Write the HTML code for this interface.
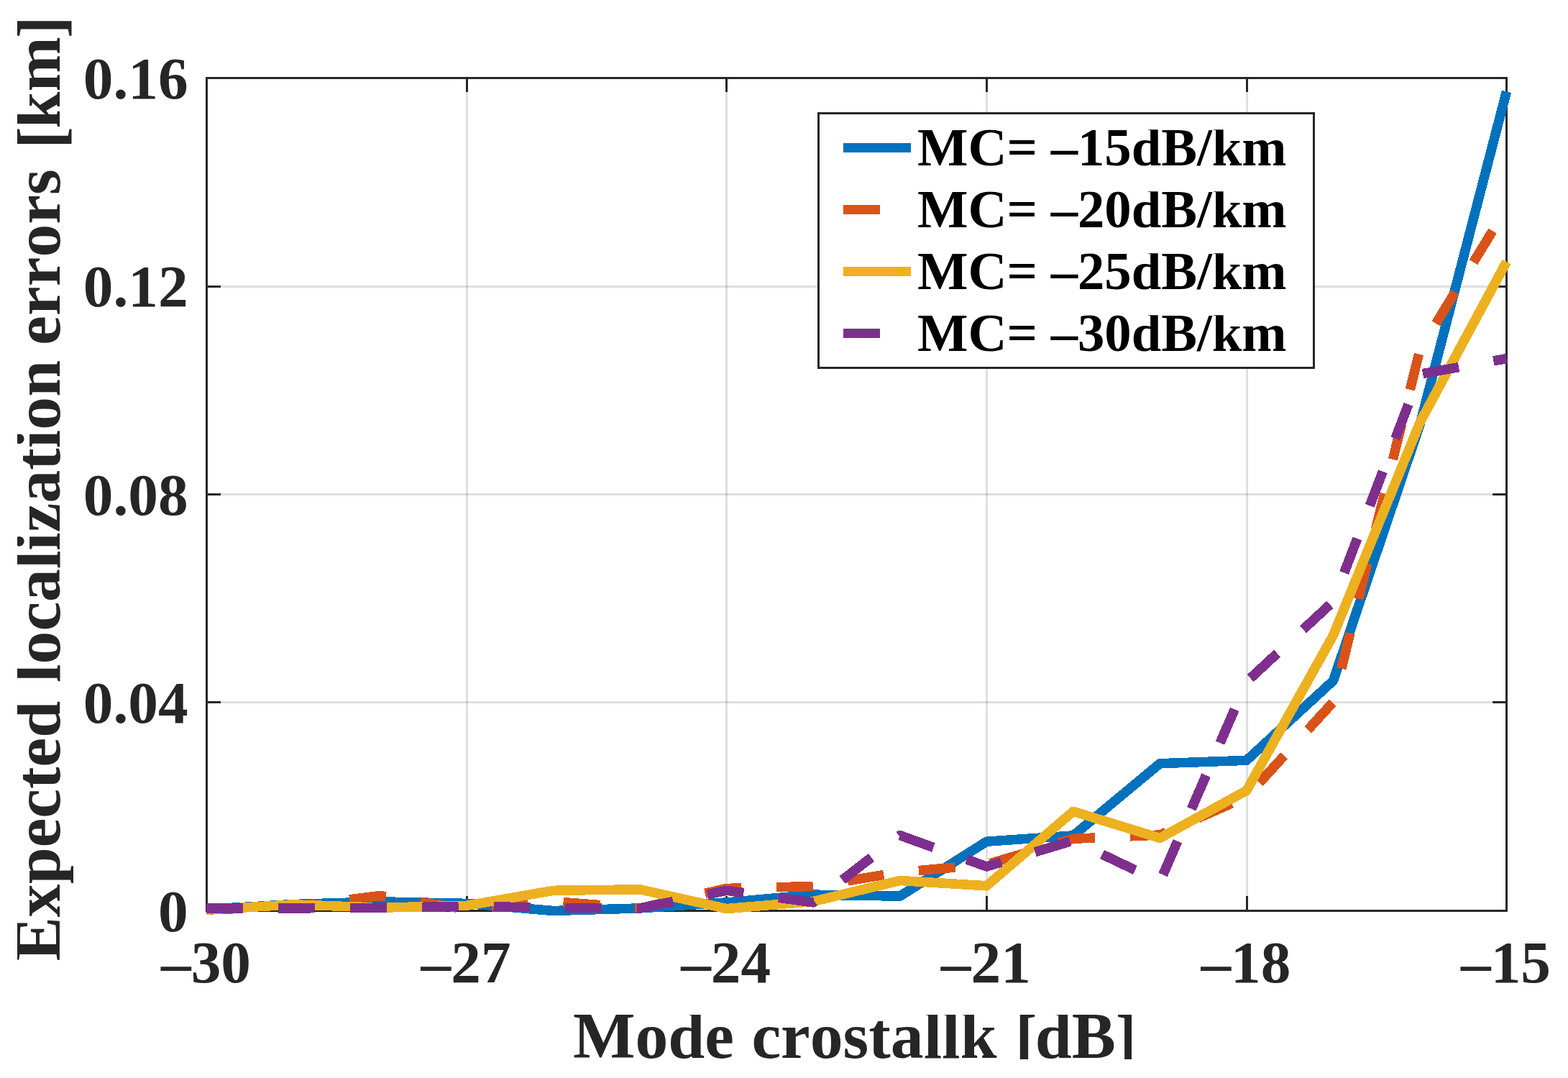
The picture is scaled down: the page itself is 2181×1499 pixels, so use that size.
<!DOCTYPE html>
<html lang="en"><head><meta charset="utf-8"><title>Expected localization errors vs mode crosstalk</title>
<style>
html,body{margin:0;padding:0;background:#fff;}
body{width:2181px;height:1499px;overflow:hidden;}
svg{display:block;}
text{font-family:"Liberation Serif","Times New Roman",serif;font-weight:bold;font-kerning:none;}
.tick{font-size:83.33px;fill:#262626;}
.lab{font-size:91.67px;fill:#262626;}
.leg{font-size:74.7px;fill:#000;}
</style></head><body>
<svg width="2181" height="1499" viewBox="0 0 2181 1499" role="img" aria-label="Expected localization errors versus mode crosstalk">
<rect width="2181" height="1499" fill="#fff"/>
<g stroke="#262626" stroke-opacity="0.15" stroke-width="3" fill="none" shape-rendering="crispEdges">
<line x1="649.5" y1="108.5" x2="649.5" y2="1266.5"/>
<line x1="1010.5" y1="108.5" x2="1010.5" y2="1266.5"/>
<line x1="1372.5" y1="108.5" x2="1372.5" y2="1266.5"/>
<line x1="1734.5" y1="108.5" x2="1734.5" y2="1266.5"/>
<line x1="287.5" y1="976.5" x2="2095.5" y2="976.5"/>
<line x1="287.5" y1="687.5" x2="2095.5" y2="687.5"/>
<line x1="287.5" y1="398.5" x2="2095.5" y2="398.5"/>
</g>
<g stroke="#262626" stroke-width="3" fill="none" shape-rendering="crispEdges">
<rect x="287.5" y="108.5" width="1808.0" height="1158.0"/>
<line x1="649.5" y1="1266.5" x2="649.5" y2="1246.0"/>
<line x1="649.5" y1="108.5" x2="649.5" y2="128.0"/>
<line x1="1010.5" y1="1266.5" x2="1010.5" y2="1246.0"/>
<line x1="1010.5" y1="108.5" x2="1010.5" y2="128.0"/>
<line x1="1372.5" y1="1266.5" x2="1372.5" y2="1246.0"/>
<line x1="1372.5" y1="108.5" x2="1372.5" y2="128.0"/>
<line x1="1734.5" y1="1266.5" x2="1734.5" y2="1246.0"/>
<line x1="1734.5" y1="108.5" x2="1734.5" y2="128.0"/>
<line x1="287.5" y1="976.5" x2="307.0" y2="976.5"/>
<line x1="2095.5" y1="976.5" x2="2076.0" y2="976.5"/>
<line x1="287.5" y1="687.5" x2="307.0" y2="687.5"/>
<line x1="2095.5" y1="687.5" x2="2076.0" y2="687.5"/>
<line x1="287.5" y1="398.5" x2="307.0" y2="398.5"/>
<line x1="2095.5" y1="398.5" x2="2076.0" y2="398.5"/>
</g>
<g fill="none" stroke-width="13.5" stroke-linejoin="round" stroke-linecap="butt" shape-rendering="crispEdges">
<polyline stroke="#0072BD" points="287.0,1264.3 408.0,1257.5 528.6,1253.8 649.1,1256.4 769.6,1266.5 890.2,1262.9 1010.7,1254.9 1131.2,1244.1 1251.8,1246.2 1372.3,1170.2 1492.8,1161.9 1613.4,1061.7 1733.9,1057.3 1854.4,946.6 1975.0,590.5 2095.5,127.3"/>
<polyline stroke="#D95319" stroke-dasharray="50.9 49" points="287.0,1265.1 408.0,1260.7 528.6,1245.5 649.1,1264.3 769.6,1253.5 890.2,1262.9 1010.7,1235.4 1131.2,1232.5 1251.8,1212.9 1372.3,1202.1 1492.8,1166.3 1613.4,1161.0 1733.9,1108.0 1854.4,976.3 1975.0,486.3 2095.5,289.4"/>
<polyline stroke="#EDB120" points="287.0,1265.1 408.0,1257.8 528.6,1262.2 649.1,1259.3 769.6,1238.3 890.2,1236.8 1010.7,1263.6 1131.2,1253.5 1251.8,1224.5 1372.3,1231.8 1492.8,1128.3 1613.4,1165.4 1733.9,1099.3 1854.4,883.6 1975.0,587.6 2095.5,364.0"/>
<polyline stroke="#7E2F8E" stroke-dasharray="50.9 49" points="287.0,1262.9 408.0,1262.9 528.6,1262.2 649.1,1260.3 769.6,1262.2 890.2,1262.9 1010.7,1238.3 1131.2,1254.9 1251.8,1161.6 1372.3,1205.0 1492.8,1168.8 1613.4,1226.3 1733.9,948.0 1854.4,836.6 1975.0,520.3 2095.5,498.6"/>
</g>
<rect x="1138.5" y="157.5" width="689.0" height="354.0" fill="#fff" stroke="#262626" stroke-width="3" shape-rendering="crispEdges"/>
<clipPath id="lgclip"><rect x="1270" y="180.3" width="550" height="80"/><rect x="1270" y="266.3" width="550" height="80"/><rect x="1270" y="352.3" width="550" height="80"/><rect x="1270" y="438.3" width="550" height="80"/></clipPath>
<g shape-rendering="crispEdges">
<rect x="1173" y="199.0" width="94.0" height="13" fill="#0072BD"/>
<rect x="1173" y="285.0" width="51.0" height="13" fill="#D95319"/>
<rect x="1173" y="371.0" width="94.0" height="13" fill="#EDB120"/>
<rect x="1173" y="457.0" width="51.0" height="13" fill="#7E2F8E"/>
</g>
<g clip-path="url(#lgclip)">
<text class="leg" x="1276" y="230.1" xml:space="preserve">MC= –15dB/km</text>
<text class="leg" x="1276" y="316.1" xml:space="preserve">MC= –20dB/km</text>
<text class="leg" x="1276" y="402.1" xml:space="preserve">MC= –25dB/km</text>
<text class="leg" x="1276" y="488.1" xml:space="preserve">MC= –30dB/km</text>
</g>
<text class="tick" text-anchor="middle" x="286.5" y="1366">–30</text>
<text class="tick" text-anchor="middle" x="648.1" y="1366">–27</text>
<text class="tick" text-anchor="middle" x="1009.7" y="1366">–24</text>
<text class="tick" text-anchor="middle" x="1371.3" y="1366">–21</text>
<text class="tick" text-anchor="middle" x="1732.9" y="1366">–18</text>
<text class="tick" text-anchor="middle" x="2094.5" y="1366">–15</text>
<text class="tick" text-anchor="end" x="261.7" y="1294.5">0</text>
<text class="tick" text-anchor="end" x="261.7" y="1005.0">0.04</text>
<text class="tick" text-anchor="end" x="261.7" y="715.5">0.08</text>
<text class="tick" text-anchor="end" x="261.7" y="426.0">0.12</text>
<text class="tick" text-anchor="end" x="261.7" y="136.5">0.16</text>
<clipPath id="xlclip"><rect x="700" y="1411" width="874" height="62"/></clipPath>
<g clip-path="url(#xlclip)"><text class="lab" x="797" y="1470.5" xml:space="preserve">Mode <tspan dx="1.5">crostallk </tspan><tspan dx="2.5" dy="3.6">[</tspan><tspan dx="-2.8" dy="-3.6">dB</tspan><tspan dy="3.6">]</tspan></text></g>
<clipPath id="ylclip"><rect x="24" y="0" width="100" height="1400"/></clipPath>
<g clip-path="url(#ylclip)"><text class="lab" transform="translate(83.2,1336.3) rotate(-90)" xml:space="preserve">Expected <tspan dx="3">localization </tspan><tspan dx="-1.7">errors </tspan><tspan dx="5.7" dy="3.8">[</tspan><tspan dx="-2.2" dy="-3.8">km</tspan><tspan dx="-1.8" dy="3.8">]</tspan></text></g>
</svg>
</body></html>
